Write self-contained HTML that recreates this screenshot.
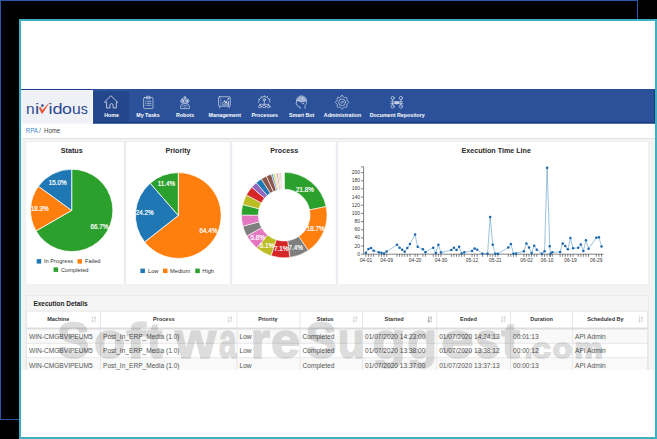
<!DOCTYPE html>
<html><head><meta charset="utf-8">
<style>
*{margin:0;padding:0;box-sizing:border-box}
html,body{width:657px;height:439px;overflow:hidden;background:#000;font-family:"Liberation Sans",sans-serif}
.abs{position:absolute}
#blue{left:0;top:0;width:638px;height:420px;border:1px solid #2c56a6}
#teal{left:19px;top:19px;width:638px;height:420px;border:2px solid #3fb0c4;background:#fff}
#shot{left:21px;top:89px;width:634px;height:281px;overflow:hidden;background:#fff}
.nav{color:#fff;font-weight:bold;font-size:5.3px;white-space:nowrap;text-align:center}
.t{white-space:nowrap;color:#333}
</style></head><body>
<div id="blue" class="abs"></div>
<div id="teal" class="abs"></div>
<div id="shot" class="abs">
<svg width="634" height="281" viewBox="21 89 634 281" style="position:absolute;left:0;top:0" font-family="'Liberation Sans', sans-serif">
 <!-- header -->
 <rect x="21" y="89" width="634" height="34.6" fill="#eff1f7"/>
 <rect x="21" y="89" width="634" height="1" fill="#1f418a"/>
 <rect x="93" y="89" width="562" height="34.5" fill="#2a5199"/>
 <rect x="93" y="121.8" width="562" height="1.7" fill="#1b3c85"/>
 <rect x="653.8" y="89" width="1.2" height="34.5" fill="#1d3d82"/>
 <rect x="92.2" y="90" width="0.9" height="33.6" fill="#fbfcfe"/>
 <rect x="93.1" y="89" width="0.6" height="34.5" fill="#1f418a"/>
 <rect x="93.5" y="91.6" width="35.6" height="30.2" fill="#24468b"/>

 <!-- logo -->
 <g fill="#2b4a8f" font-size="15.5">
  <text transform="translate(25.98,113.6) scale(1.000,1)">n</text>
  <text transform="translate(35.02,113.6) scale(1.246,1)">i</text>
  <text transform="translate(48.60,113.6) scale(1.173,1)">i</text>
  <text transform="translate(52.43,113.6) scale(1.176,1)">d</text>
  <text transform="translate(62.05,113.6) scale(1.148,1)">o</text>
  <text transform="translate(71.99,113.6) scale(1.015,1)">u</text>
  <text transform="translate(80.70,113.6) scale(0.917,1)">s</text>
 </g>
 <path d="M38.8,107.7 L40.9,106.8 L42,110.3 L49.9,101.9 L42.6,113.5 L41.5,113.6 Z" fill="#e9563b"/>
 <circle cx="42.4" cy="105.6" r="1.3" fill="#2b4a8f"/>

 <!-- nav icons -->
 <g fill="none" stroke="#fff" stroke-width="0.6" stroke-linejoin="round" stroke-linecap="round" opacity="0.92">
  <!-- home -->
  <path d="M111.2,96 L117.6,102.1 L116.3,102.1 V108 H113.1 V105.2 A1.6,1.6 0 0 0 109.9,105.2 V108 H106.6 V102.1 H104.9 Z" stroke-width="0.75"/>
  <!-- tasks -->
  <rect x="143.6" y="97.6" width="9.4" height="11" rx="1"/>
  <path d="M146.6,97.6 V96.6 H147.6 A0.7,0.7 0 0 1 149,96.6 H150 V97.6 V98.8 H146.6 Z"/>
  <path d="M147.4,101.3 H151 M147.4,103.3 H151 M147.4,105.3 H151 M145.5,101.3 H146 M145.5,103.3 H146 M145.5,105.3 H146"/>
  <!-- robots -->
  <circle cx="184.8" cy="97.3" r="0.9"/>
  <path d="M184.8,98.2 V99"/>
  <path d="M182.6,99 H187 A2,2 0 0 1 187,103 H182.6 A2,2 0 0 1 182.6,99 Z"/>
  <circle cx="182.9" cy="101" r="1.1" fill="#fff" fill-opacity="0.5"/><circle cx="186.7" cy="101" r="1.1" fill="#fff" fill-opacity="0.5"/>
  <path d="M180.7,108.2 V106.2 C180.7,104.5 182.6,103.6 184.9,103.6 C187.2,103.6 189.3,104.5 189.3,106.2 V108.2 Z"/>
  <path d="M182.5,106.2 C183.5,105.2 186.3,105.2 187.3,106.2 M184.9,107 V107.8" stroke-width="0.5"/>
  <!-- management -->
  <rect x="218.5" y="96.7" width="11.8" height="9.5" rx="1"/>
  <path d="M220,106.2 L219.5,107.9 M228.8,106.2 L229.3,107.9"/>
  <path d="M222.3,103.6 L224.3,101.2 L226,102.3 L228.4,98.6" stroke-width="0.55"/>
  <path d="M220.4,98.6 H221 M220.4,100.4 H221 M220.4,102.2 H221 M220.4,104.1 H221" stroke-width="0.5"/>
  <path d="M223,105.2 V104.2 M225,105.2 V103.4 M227,105.2 V102.8 M228.6,105.2 V101.5" stroke-width="0.8"/>
  <circle cx="224.3" cy="101.2" r="0.45" fill="#fff"/><circle cx="226" cy="102.3" r="0.45" fill="#fff"/><circle cx="228.4" cy="98.6" r="0.45" fill="#fff"/>
  <!-- processes -->
  <path d="M258.6,102.3 A5.7,5.7 0 0 1 270,102.3 M259.4,99.5 L258.4,99 M261.5,97.2 L261,96.3 M264.3,96.6 V95.6 M267.1,97.2 L267.6,96.3 M269.2,99.5 L270.2,99"/>
  <path d="M264.3,100 V104.3 M260,104.3 H268.6 M260,104.3 V105.3 M268.6,104.3 V105.3"/>
  <circle cx="264.3" cy="99.7" r="1.2"/>
  <ellipse cx="260" cy="106.6" rx="1.6" ry="1.2"/><ellipse cx="264.3" cy="106.6" rx="1.6" ry="1.2"/><ellipse cx="268.6" cy="106.6" rx="1.6" ry="1.2"/>
  <!-- smart bot -->
  <path d="M300.2,108.4 L300,106.9 C298.6,107 297.4,106.6 297.2,105.4 L297,104.3 L295.9,103.9 L296.6,102.3 C295.9,98.6 298.2,95.9 301.4,95.9 C304.7,95.9 306.8,98.2 306.6,101.4 C306.5,103.3 305.8,104.6 304.9,105.5 L305.1,108.4"/>
  <path d="M297.3,100.6 C297.6,98.2 299.3,96.8 301.4,96.8 C303.8,96.8 305.7,98.6 305.7,101.2 C304.2,101.8 302.6,101.4 301.6,102.2 C300.4,101.4 298.8,101.6 297.3,100.6 Z" fill="#fff" fill-opacity="0.55" stroke-width="0.5"/>
  <path d="M299,98.6 L300.6,100.4 M302.2,97.6 L302.6,100 M304.2,98.8 L303.2,100.6" stroke-width="0.4"/>
  <circle cx="303.1" cy="103.6" r="0.7" fill="#fff" stroke="none"/>
  <!-- admin -->
  <path d="M342.10,95.65L342.53,95.76L342.92,96.08L343.25,96.51L343.53,96.96L343.79,97.33L344.07,97.54L344.42,97.59L344.86,97.52L345.38,97.39L345.92,97.32L346.42,97.38L346.80,97.60L347.02,97.98L347.08,98.48L347.01,99.02L346.88,99.54L346.81,99.98L346.86,100.33L347.07,100.61L347.44,100.87L347.89,101.15L348.32,101.48L348.64,101.87L348.75,102.30L348.64,102.73L348.32,103.12L347.89,103.45L347.44,103.73L347.07,103.99L346.86,104.27L346.81,104.62L346.88,105.06L347.01,105.58L347.08,106.12L347.02,106.62L346.80,107.00L346.42,107.22L345.92,107.28L345.38,107.21L344.86,107.08L344.42,107.01L344.07,107.06L343.79,107.27L343.53,107.64L343.25,108.09L342.92,108.52L342.53,108.84L342.10,108.95L341.67,108.84L341.28,108.52L340.95,108.09L340.67,107.64L340.41,107.27L340.13,107.06L339.78,107.01L339.34,107.08L338.82,107.21L338.28,107.28L337.78,107.22L337.40,107.00L337.18,106.62L337.12,106.12L337.19,105.58L337.32,105.06L337.39,104.62L337.34,104.27L337.13,103.99L336.76,103.73L336.31,103.45L335.88,103.12L335.56,102.73L335.45,102.30L335.56,101.87L335.88,101.48L336.31,101.15L336.76,100.87L337.13,100.61L337.34,100.33L337.39,99.98L337.32,99.54L337.19,99.02L337.12,98.48L337.18,97.98L337.40,97.60L337.78,97.38L338.28,97.32L338.82,97.39L339.34,97.52L339.78,97.59L340.13,97.54L340.41,97.33L340.67,96.96L340.95,96.51L341.28,96.08L341.67,95.76L342.10,95.65Z"/>
  <circle cx="342.1" cy="102.3" r="3.4"/>
  <path d="M340.6,102.6 C341.2,101.2 343,101 343.8,102 M341.8,103.6 L343.4,101.6" stroke-width="0.5"/>
  <!-- doc repo -->
  <circle cx="392.7" cy="98" r="1.6"/><circle cx="400.9" cy="98" r="1.6"/>
  <circle cx="392.7" cy="106.5" r="1.6"/><circle cx="400.9" cy="106.5" r="1.6"/>
  <path d="M392.7,99.6 V104.9 M400.9,99.6 V104.9 M390.8,101.8 H402.8 M390.8,103.7 H402.8"/>
  <ellipse cx="396.8" cy="102.7" rx="2.2" ry="1.1" fill="#fff" fill-opacity="0.6"/>
 </g>
 <g font-weight="bold" font-size="5.3" fill="#fff" text-anchor="middle">
  <text x="111.6" y="116.5">Home</text>
  <text x="148" y="116.5">My Tasks</text>
  <text x="185" y="116.5">Robots</text>
  <text x="224.8" y="116.5">Management</text>
  <text x="264.7" y="116.5">Processes</text>
  <text x="301.6" y="116.5">Smart Bot</text>
  <text x="342.5" y="116.5">Administration</text>
  <text x="397.2" y="116.5">Document Repository</text>
 </g>
 <!-- breadcrumb -->
 <text transform="translate(25.8,132.9) scale(0.92,1)" font-size="6.6" fill="#3d8bcb">RPA</text>
 <text x="39" y="132.9" font-size="6.6" fill="#666">/</text>
 <text transform="translate(44,132.9) scale(0.92,1)" font-size="6.6" fill="#444">Home</text>
 <!-- content bg -->
 <rect x="21" y="138" width="634" height="232" fill="#f3f3f3"/>
 <rect x="21" y="138" width="634" height="0.8" fill="#dcdcdc"/>
 <!-- cards -->
 <g fill="#fff" stroke="#e8ebf0" stroke-width="0.7">
  <rect x="25.8" y="141.8" width="98.4" height="143"/>
  <rect x="125.8" y="141.8" width="104.4" height="143"/>
  <rect x="231.8" y="141.8" width="104.4" height="143"/>
  <rect x="337.8" y="141.8" width="310.8" height="143"/>
 </g>
 <g fill="#e9ecf1">
  <rect x="124.2" y="142" width="1.6" height="142.6"/>
  <rect x="230.2" y="142" width="1.6" height="142.6"/>
  <rect x="336.2" y="142" width="1.6" height="142.6"/>
 </g>
 <g font-weight="bold" font-size="7.8" fill="#2a2a2a" text-anchor="middle">
  <text transform="translate(71.7,152.9) scale(0.92,1)">Status</text>
  <text transform="translate(178,152.9) scale(0.92,1)">Priority</text>
  <text transform="translate(284.2,152.9) scale(0.92,1)">Process</text>
  <text transform="translate(496.2,153.2) scale(0.92,1)">Execution Time Line</text>
 </g>
 <path d="M71.70,210.40L71.70,169.20A41.2,41.2 0 1 1 35.98,230.93Z" fill="#2ca02c" stroke="#fff" stroke-width="0.8"/>
<path d="M71.70,210.40L35.98,230.93A41.2,41.2 0 0 1 38.37,186.18Z" fill="#ff7f0e" stroke="#fff" stroke-width="0.8"/>
<path d="M71.70,210.40L38.37,186.18A41.2,41.2 0 0 1 71.70,169.20Z" fill="#1f77b4" stroke="#fff" stroke-width="0.8"/>
<path d="M178.30,215.50L178.30,172.60A42.9,42.9 0 1 1 144.57,242.01Z" fill="#ff7f0e" stroke="#fff" stroke-width="0.8"/>
<path d="M178.30,215.50L144.57,242.01A42.9,42.9 0 0 1 150.13,183.14Z" fill="#1f77b4" stroke="#fff" stroke-width="0.8"/>
<path d="M178.30,215.50L150.13,183.14A42.9,42.9 0 0 1 178.30,172.60Z" fill="#2ca02c" stroke="#fff" stroke-width="0.8"/>
<path d="M284.20,172.30A42.8,42.8 0 0 1 326.14,206.55L309.58,209.93A25.9,25.9 0 0 0 284.20,189.20Z" fill="#2ca02c" stroke="#fff" stroke-width="0.6"/>
<path d="M326.14,206.55A42.8,42.8 0 0 1 308.26,250.50L298.76,236.52A25.9,25.9 0 0 0 309.58,209.93Z" fill="#ff7f0e" stroke="#fff" stroke-width="0.6"/>
<path d="M308.26,250.50A42.8,42.8 0 0 1 289.83,257.53L287.61,240.77A25.9,25.9 0 0 0 298.76,236.52Z" fill="#7f7f7f" stroke="#fff" stroke-width="0.6"/>
<path d="M289.83,257.53A42.8,42.8 0 0 1 270.97,255.81L276.20,239.73A25.9,25.9 0 0 0 287.61,240.77Z" fill="#d62728" stroke="#fff" stroke-width="0.6"/>
<path d="M270.97,255.81A42.8,42.8 0 0 1 256.71,247.91L267.57,234.95A25.9,25.9 0 0 0 276.20,239.73Z" fill="#bcbd22" stroke="#fff" stroke-width="0.6"/>
<path d="M256.71,247.91A42.8,42.8 0 0 1 246.82,235.95L261.58,227.72A25.9,25.9 0 0 0 267.57,234.95Z" fill="#e377c2" stroke="#fff" stroke-width="0.6"/>
<path d="M246.82,235.95A42.8,42.8 0 0 1 242.86,226.18L259.18,221.80A25.9,25.9 0 0 0 261.58,227.72Z" fill="#7f7f7f" stroke="#fff" stroke-width="0.6"/>
<path d="M242.86,226.18A42.8,42.8 0 0 1 241.40,215.10L258.30,215.10A25.9,25.9 0 0 0 259.18,221.80Z" fill="#e377c2" stroke="#fff" stroke-width="0.6"/>
<path d="M241.40,215.10A42.8,42.8 0 0 1 242.71,204.60L259.09,208.75A25.9,25.9 0 0 0 258.30,215.10Z" fill="#2ca02c" stroke="#fff" stroke-width="0.6"/>
<path d="M242.71,204.60A42.8,42.8 0 0 1 246.44,194.94L261.35,202.90A25.9,25.9 0 0 0 259.09,208.75Z" fill="#bcbd22" stroke="#fff" stroke-width="0.6"/>
<path d="M246.44,194.94A42.8,42.8 0 0 1 251.75,187.19L264.56,198.21A25.9,25.9 0 0 0 261.35,202.90Z" fill="#d62728" stroke="#fff" stroke-width="0.6"/>
<path d="M251.75,187.19A42.8,42.8 0 0 1 256.23,182.70L267.28,195.49A25.9,25.9 0 0 0 264.56,198.21Z" fill="#9467bd" stroke="#fff" stroke-width="0.6"/>
<path d="M256.23,182.70A42.8,42.8 0 0 1 261.33,178.92L270.36,193.21A25.9,25.9 0 0 0 267.28,195.49Z" fill="#1f77b4" stroke="#fff" stroke-width="0.6"/>
<path d="M261.33,178.92A42.8,42.8 0 0 1 266.38,176.18L273.42,191.55A25.9,25.9 0 0 0 270.36,193.21Z" fill="#8c564b" stroke="#fff" stroke-width="0.6"/>
<path d="M266.38,176.18A42.8,42.8 0 0 1 271.33,174.28L276.41,190.40A25.9,25.9 0 0 0 273.42,191.55Z" fill="#8c564b" stroke="#fff" stroke-width="0.6"/>
<path d="M271.33,174.28A42.8,42.8 0 0 1 273.12,173.76L277.50,190.08A25.9,25.9 0 0 0 276.41,190.40Z" fill="#3b8bd0" stroke="#fff" stroke-width="0.6"/>
<path d="M273.12,173.76A42.8,42.8 0 0 1 275.01,173.30L278.64,189.80A25.9,25.9 0 0 0 277.50,190.08Z" fill="#dcd34a" stroke="#fff" stroke-width="0.6"/>
<path d="M275.01,173.30A42.8,42.8 0 0 1 276.33,173.03L279.44,189.64A25.9,25.9 0 0 0 278.64,189.80Z" fill="#f7b6d2" stroke="#fff" stroke-width="0.6"/>
<path d="M276.33,173.03A42.8,42.8 0 0 1 278.10,172.74L280.51,189.46A25.9,25.9 0 0 0 279.44,189.64Z" fill="#c49c94" stroke="#fff" stroke-width="0.6"/>
<path d="M278.10,172.74A42.8,42.8 0 0 1 279.43,172.57L281.31,189.36A25.9,25.9 0 0 0 280.51,189.46Z" fill="#f4b28c" stroke="#fff" stroke-width="0.6"/>
<path d="M279.43,172.57A42.8,42.8 0 0 1 281.07,172.41L282.30,189.27A25.9,25.9 0 0 0 281.31,189.36Z" fill="#c7c7c7" stroke="#fff" stroke-width="0.6"/>
<path d="M281.07,172.41A42.8,42.8 0 0 1 282.26,172.34L283.03,189.23A25.9,25.9 0 0 0 282.30,189.27Z" fill="#f2c2cc" stroke="#fff" stroke-width="0.6"/>
<path d="M282.26,172.34A42.8,42.8 0 0 1 284.20,172.30L284.20,189.20A25.9,25.9 0 0 0 283.03,189.23Z" fill="#fbfbfb" stroke="#fff" stroke-width="0.6"/>
<text x="57.6" y="182.4" text-anchor="middle" dominant-baseline="central" fill="#fff" stroke="#fff" stroke-width="0.2" font-size="6.3">15.0%</text>
<text x="39.8" y="208.3" text-anchor="middle" dominant-baseline="central" fill="#fff" stroke="#fff" stroke-width="0.2" font-size="6.3">18.3%</text>
<text x="99.5" y="226.6" text-anchor="middle" dominant-baseline="central" fill="#fff" stroke="#fff" stroke-width="0.2" font-size="6.3">66.7%</text>
<text x="166.5" y="183.7" text-anchor="middle" dominant-baseline="central" fill="#fff" stroke="#fff" stroke-width="0.2" font-size="6.3">11.4%</text>
<text x="144.7" y="212.4" text-anchor="middle" dominant-baseline="central" fill="#fff" stroke="#fff" stroke-width="0.2" font-size="6.3">24.2%</text>
<text x="208.5" y="230" text-anchor="middle" dominant-baseline="central" fill="#fff" stroke="#fff" stroke-width="0.2" font-size="6.3">64.4%</text>
<text x="304.9" y="189.2" text-anchor="middle" dominant-baseline="central" fill="#fff" stroke="#fff" stroke-width="0.2" font-size="6.3">21.8%</text>
<text x="315.7" y="228.1" text-anchor="middle" dominant-baseline="central" fill="#fff" stroke="#fff" stroke-width="0.2" font-size="6.3">18.7%</text>
<text x="295.6" y="247.6" text-anchor="middle" dominant-baseline="central" fill="#fff" stroke="#fff" stroke-width="0.2" font-size="6.3">7.4%</text>
<text x="281.2" y="248.8" text-anchor="middle" dominant-baseline="central" fill="#fff" stroke="#fff" stroke-width="0.2" font-size="6.3">7.1%</text>
<text x="266.9" y="245.1" text-anchor="middle" dominant-baseline="central" fill="#fff" stroke="#fff" stroke-width="0.2" font-size="6.3">6.1%</text>
<text x="257.6" y="237.3" text-anchor="middle" dominant-baseline="central" fill="#fff" stroke="#fff" stroke-width="0.2" font-size="6.3">5.8%</text>
 <!-- legends -->
 <g font-size="5.7" fill="#333">
  <rect x="36.7" y="259.1" width="4.5" height="4.5" fill="#1f77b4"/><text x="44" y="263.4">In Progress</text>
  <rect x="77.5" y="259.1" width="4.5" height="4.5" fill="#ff7f0e"/><text x="85" y="263.4">Failed</text>
  <rect x="53.6" y="267.4" width="4.5" height="4.5" fill="#2ca02c"/><text x="61" y="271.9">Completed</text>
  <rect x="140.4" y="268.6" width="4.5" height="4.5" fill="#1f77b4"/><text x="148" y="272.9">Low</text>
  <rect x="163" y="268.6" width="4.5" height="4.5" fill="#ff7f0e"/><text x="170" y="272.9">Medium</text>
  <rect x="195.3" y="268.6" width="4.5" height="4.5" fill="#2ca02c"/><text x="202.3" y="272.9">High</text>
 </g>
 
<g fill="none" stroke="#333" stroke-width="0.6">
<path d="M361.0,166.8H363.6V254.2H603.6"/>
<line x1="365.90" y1="254.2" x2="365.90" y2="256.8"/><line x1="368.49" y1="254.2" x2="368.49" y2="256.8"/><line x1="371.08" y1="254.2" x2="371.08" y2="256.8"/><line x1="373.67" y1="254.2" x2="373.67" y2="256.8"/><line x1="378.84" y1="254.2" x2="378.84" y2="256.8"/><line x1="381.43" y1="254.2" x2="381.43" y2="256.8"/><line x1="384.02" y1="254.2" x2="384.02" y2="256.8"/><line x1="386.61" y1="254.2" x2="386.61" y2="256.8"/><line x1="396.97" y1="254.2" x2="396.97" y2="256.8"/><line x1="399.56" y1="254.2" x2="399.56" y2="256.8"/><line x1="402.15" y1="254.2" x2="402.15" y2="256.8"/><line x1="404.73" y1="254.2" x2="404.73" y2="256.8"/><line x1="407.32" y1="254.2" x2="407.32" y2="256.8"/><line x1="409.91" y1="254.2" x2="409.91" y2="256.8"/><line x1="415.09" y1="254.2" x2="415.09" y2="256.8"/><line x1="417.68" y1="254.2" x2="417.68" y2="256.8"/><line x1="422.86" y1="254.2" x2="422.86" y2="256.8"/><line x1="425.45" y1="254.2" x2="425.45" y2="256.8"/><line x1="433.21" y1="254.2" x2="433.21" y2="256.8"/><line x1="435.80" y1="254.2" x2="435.80" y2="256.8"/><line x1="438.39" y1="254.2" x2="438.39" y2="256.8"/><line x1="440.98" y1="254.2" x2="440.98" y2="256.8"/><line x1="451.34" y1="254.2" x2="451.34" y2="256.8"/><line x1="453.93" y1="254.2" x2="453.93" y2="256.8"/><line x1="456.51" y1="254.2" x2="456.51" y2="256.8"/><line x1="459.10" y1="254.2" x2="459.10" y2="256.8"/><line x1="461.69" y1="254.2" x2="461.69" y2="256.8"/><line x1="464.28" y1="254.2" x2="464.28" y2="256.8"/><line x1="472.05" y1="254.2" x2="472.05" y2="256.8"/><line x1="474.64" y1="254.2" x2="474.64" y2="256.8"/><line x1="477.23" y1="254.2" x2="477.23" y2="256.8"/><line x1="482.40" y1="254.2" x2="482.40" y2="256.8"/><line x1="487.58" y1="254.2" x2="487.58" y2="256.8"/><line x1="490.17" y1="254.2" x2="490.17" y2="256.8"/><line x1="492.76" y1="254.2" x2="492.76" y2="256.8"/><line x1="495.35" y1="254.2" x2="495.35" y2="256.8"/><line x1="497.94" y1="254.2" x2="497.94" y2="256.8"/><line x1="508.29" y1="254.2" x2="508.29" y2="256.8"/><line x1="510.88" y1="254.2" x2="510.88" y2="256.8"/><line x1="513.47" y1="254.2" x2="513.47" y2="256.8"/><line x1="516.06" y1="254.2" x2="516.06" y2="256.8"/><line x1="523.83" y1="254.2" x2="523.83" y2="256.8"/><line x1="526.42" y1="254.2" x2="526.42" y2="256.8"/><line x1="529.01" y1="254.2" x2="529.01" y2="256.8"/><line x1="531.60" y1="254.2" x2="531.60" y2="256.8"/><line x1="534.18" y1="254.2" x2="534.18" y2="256.8"/><line x1="536.77" y1="254.2" x2="536.77" y2="256.8"/><line x1="541.95" y1="254.2" x2="541.95" y2="256.8"/><line x1="544.54" y1="254.2" x2="544.54" y2="256.8"/><line x1="547.13" y1="254.2" x2="547.13" y2="256.8"/><line x1="549.72" y1="254.2" x2="549.72" y2="256.8"/><line x1="550.50" y1="254.2" x2="550.50" y2="256.8"/><line x1="552.31" y1="254.2" x2="552.31" y2="256.8"/><line x1="560.08" y1="254.2" x2="560.08" y2="256.8"/><line x1="562.66" y1="254.2" x2="562.66" y2="256.8"/><line x1="565.25" y1="254.2" x2="565.25" y2="256.8"/><line x1="567.84" y1="254.2" x2="567.84" y2="256.8"/><line x1="570.43" y1="254.2" x2="570.43" y2="256.8"/><line x1="573.02" y1="254.2" x2="573.02" y2="256.8"/><line x1="578.20" y1="254.2" x2="578.20" y2="256.8"/><line x1="580.79" y1="254.2" x2="580.79" y2="256.8"/><line x1="583.38" y1="254.2" x2="583.38" y2="256.8"/><line x1="585.96" y1="254.2" x2="585.96" y2="256.8"/><line x1="588.55" y1="254.2" x2="588.55" y2="256.8"/><line x1="596.32" y1="254.2" x2="596.32" y2="256.8"/><line x1="598.91" y1="254.2" x2="598.91" y2="256.8"/><line x1="601.50" y1="254.2" x2="601.50" y2="256.8"/><line x1="361.0" y1="254.20" x2="363.6" y2="254.20"/><text fill="#333" stroke="none" font-size="4.9" x="360.0" y="254.20" text-anchor="end" dominant-baseline="central">0</text><line x1="361.0" y1="246.04" x2="363.6" y2="246.04"/><text fill="#333" stroke="none" font-size="4.9" x="360.0" y="246.04" text-anchor="end" dominant-baseline="central">20</text><line x1="361.0" y1="237.88" x2="363.6" y2="237.88"/><text fill="#333" stroke="none" font-size="4.9" x="360.0" y="237.88" text-anchor="end" dominant-baseline="central">40</text><line x1="361.0" y1="229.72" x2="363.6" y2="229.72"/><text fill="#333" stroke="none" font-size="4.9" x="360.0" y="229.72" text-anchor="end" dominant-baseline="central">60</text><line x1="361.0" y1="221.56" x2="363.6" y2="221.56"/><text fill="#333" stroke="none" font-size="4.9" x="360.0" y="221.56" text-anchor="end" dominant-baseline="central">80</text><line x1="361.0" y1="213.40" x2="363.6" y2="213.40"/><text fill="#333" stroke="none" font-size="4.9" x="360.0" y="213.40" text-anchor="end" dominant-baseline="central">100</text><line x1="361.0" y1="205.24" x2="363.6" y2="205.24"/><text fill="#333" stroke="none" font-size="4.9" x="360.0" y="205.24" text-anchor="end" dominant-baseline="central">120</text><line x1="361.0" y1="197.08" x2="363.6" y2="197.08"/><text fill="#333" stroke="none" font-size="4.9" x="360.0" y="197.08" text-anchor="end" dominant-baseline="central">140</text><line x1="361.0" y1="188.92" x2="363.6" y2="188.92"/><text fill="#333" stroke="none" font-size="4.9" x="360.0" y="188.92" text-anchor="end" dominant-baseline="central">160</text><line x1="361.0" y1="180.76" x2="363.6" y2="180.76"/><text fill="#333" stroke="none" font-size="4.9" x="360.0" y="180.76" text-anchor="end" dominant-baseline="central">180</text><line x1="361.0" y1="172.60" x2="363.6" y2="172.60"/><text fill="#333" stroke="none" font-size="4.9" x="360.0" y="172.60" text-anchor="end" dominant-baseline="central">200</text>
</g>
<g font-size="4.9" fill="#333"><text x="365.90" y="260.90" text-anchor="middle" dominant-baseline="central">04-01</text><text x="386.61" y="260.90" text-anchor="middle" dominant-baseline="central">04-09</text><text x="415.09" y="260.90" text-anchor="middle" dominant-baseline="central">04-20</text><text x="440.98" y="260.90" text-anchor="middle" dominant-baseline="central">04-30</text><text x="472.05" y="260.90" text-anchor="middle" dominant-baseline="central">05-12</text><text x="495.35" y="260.90" text-anchor="middle" dominant-baseline="central">05-21</text><text x="526.42" y="260.90" text-anchor="middle" dominant-baseline="central">06-02</text><text x="547.13" y="260.90" text-anchor="middle" dominant-baseline="central">06-10</text><text x="570.43" y="260.90" text-anchor="middle" dominant-baseline="central">06-19</text><text x="596.32" y="260.90" text-anchor="middle" dominant-baseline="central">06-29</text></g>
<path d="M365.90,252.77L368.49,249.10L371.08,247.88L373.67,250.73L378.84,252.36L381.43,252.77L384.02,253.59L386.61,251.55L396.97,244.82L399.56,247.67L402.15,249.71L404.73,251.75L407.32,248.08L409.91,244.00L415.09,234.62L417.68,246.86L422.86,249.30L425.45,252.16L433.21,247.67L435.80,252.98L438.39,244.82L440.98,252.57L451.34,250.12L453.93,247.67L456.51,250.12L459.10,246.86L461.69,253.38L464.28,252.16L472.05,250.94L474.64,248.49L477.23,249.71L482.40,253.79L487.58,253.79L490.17,217.07L492.76,244.82L495.35,253.79L497.94,253.79L508.29,247.47L510.88,244.00L513.47,253.79L516.06,253.38L523.83,251.34L526.42,243.59L529.01,247.47L531.60,252.98L534.18,245.63L536.77,249.71L541.95,253.79L544.54,251.34L547.13,167.70L549.72,246.24L550.50,253.79L552.31,252.16L560.08,251.92L562.66,243.59L565.25,246.04L567.84,249.30L570.43,238.08L573.02,248.32L578.20,247.84L580.79,244.41L583.38,250.94L585.96,240.33L588.55,248.73L596.32,237.72L598.91,237.19L601.50,246.53" fill="none" stroke="#1f77b4" stroke-opacity="0.55" stroke-width="0.8"/>
<g fill="#1a66ad"><circle cx="365.90" cy="252.77" r="1.25"/><circle cx="368.49" cy="249.10" r="1.25"/><circle cx="371.08" cy="247.88" r="1.25"/><circle cx="373.67" cy="250.73" r="1.25"/><circle cx="378.84" cy="252.36" r="1.25"/><circle cx="381.43" cy="252.77" r="1.25"/><circle cx="384.02" cy="253.59" r="1.25"/><circle cx="386.61" cy="251.55" r="1.25"/><circle cx="396.97" cy="244.82" r="1.25"/><circle cx="399.56" cy="247.67" r="1.25"/><circle cx="402.15" cy="249.71" r="1.25"/><circle cx="404.73" cy="251.75" r="1.25"/><circle cx="407.32" cy="248.08" r="1.25"/><circle cx="409.91" cy="244.00" r="1.25"/><circle cx="415.09" cy="234.62" r="1.25"/><circle cx="417.68" cy="246.86" r="1.25"/><circle cx="422.86" cy="249.30" r="1.25"/><circle cx="425.45" cy="252.16" r="1.25"/><circle cx="433.21" cy="247.67" r="1.25"/><circle cx="435.80" cy="252.98" r="1.25"/><circle cx="438.39" cy="244.82" r="1.25"/><circle cx="440.98" cy="252.57" r="1.25"/><circle cx="451.34" cy="250.12" r="1.25"/><circle cx="453.93" cy="247.67" r="1.25"/><circle cx="456.51" cy="250.12" r="1.25"/><circle cx="459.10" cy="246.86" r="1.25"/><circle cx="461.69" cy="253.38" r="1.25"/><circle cx="464.28" cy="252.16" r="1.25"/><circle cx="472.05" cy="250.94" r="1.25"/><circle cx="474.64" cy="248.49" r="1.25"/><circle cx="477.23" cy="249.71" r="1.25"/><circle cx="482.40" cy="253.79" r="1.25"/><circle cx="487.58" cy="253.79" r="1.25"/><circle cx="490.17" cy="217.07" r="1.25"/><circle cx="492.76" cy="244.82" r="1.25"/><circle cx="495.35" cy="253.79" r="1.25"/><circle cx="497.94" cy="253.79" r="1.25"/><circle cx="508.29" cy="247.47" r="1.25"/><circle cx="510.88" cy="244.00" r="1.25"/><circle cx="513.47" cy="253.79" r="1.25"/><circle cx="516.06" cy="253.38" r="1.25"/><circle cx="523.83" cy="251.34" r="1.25"/><circle cx="526.42" cy="243.59" r="1.25"/><circle cx="529.01" cy="247.47" r="1.25"/><circle cx="531.60" cy="252.98" r="1.25"/><circle cx="534.18" cy="245.63" r="1.25"/><circle cx="536.77" cy="249.71" r="1.25"/><circle cx="541.95" cy="253.79" r="1.25"/><circle cx="544.54" cy="251.34" r="1.25"/><circle cx="547.13" cy="167.70" r="1.25"/><circle cx="549.72" cy="246.24" r="1.25"/><circle cx="550.50" cy="253.79" r="1.25"/><circle cx="552.31" cy="252.16" r="1.25"/><circle cx="560.08" cy="251.92" r="1.25"/><circle cx="562.66" cy="243.59" r="1.25"/><circle cx="565.25" cy="246.04" r="1.25"/><circle cx="567.84" cy="249.30" r="1.25"/><circle cx="570.43" cy="238.08" r="1.25"/><circle cx="573.02" cy="248.32" r="1.25"/><circle cx="578.20" cy="247.84" r="1.25"/><circle cx="580.79" cy="244.41" r="1.25"/><circle cx="583.38" cy="250.94" r="1.25"/><circle cx="585.96" cy="240.33" r="1.25"/><circle cx="588.55" cy="248.73" r="1.25"/><circle cx="596.32" cy="237.72" r="1.25"/><circle cx="598.91" cy="237.19" r="1.25"/><circle cx="601.50" cy="246.53" r="1.25"/></g>

 <rect x="26" y="295.5" width="622.5" height="80" fill="#f5f5f5" stroke="#e6e8ee" stroke-width="0.8"/>
<text x="33.4" y="306" font-weight="bold" font-size="6.5" fill="#222">Execution Details</text>
<rect x="26.5" y="311" width="621" height="16.7" fill="#fff"/>
<rect x="26.5" y="329.4" width="621" height="13.9" fill="#f9f9f9"/>
<rect x="26.5" y="343.3" width="621" height="14.4" fill="#fff"/>
<rect x="26.5" y="357.7" width="621" height="14.4" fill="#f9f9f9"/>
<g stroke="#e2e2e2" stroke-width="0.8" fill="none">
<path d="M26.5,311.2 H647.5"/>
<path d="M26.5,311 V372"/>
<path d="M100.5,311 V372"/>
<path d="M237,311 V372"/>
<path d="M300,311 V372"/>
<path d="M362.5,311 V372"/>
<path d="M436.7,311 V372"/>
<path d="M510.5,311 V372"/>
<path d="M572.5,311 V372"/>
<path d="M647.5,311 V372"/>
<path d="M26.5,343.3 H647.5"/>
<path d="M26.5,357.7 H647.5"/>
</g>
<rect x="26.5" y="327.6" width="621" height="1.8" fill="#dcdcdc"/>
<g font-weight="bold" font-size="5.5" fill="#333" text-anchor="middle">
<text x="58.2" y="321.3">Machine</text>
<text x="163.8" y="321.3">Process</text>
<text x="267.9" y="321.3">Priority</text>
<text x="325.2" y="321.3">Status</text>
<text x="394.1" y="321.3">Started</text>
<text x="468.4" y="321.3">Ended</text>
<text x="541.6" y="321.3">Duration</text>
<text x="605.4" y="321.3">Scheduled By</text>
</g>
<g stroke-width="0.55" fill="none" stroke-linecap="round"><path d="M92.6,316.9 V322 M91.7,321 L92.6,322 L93.5,321" stroke="#bbb"/><path d="M95.0,322 V316.9 M94.1,317.9 L95.0,316.9 L95.89999999999999,317.9" stroke="#bbb"/></g>
<g stroke-width="0.55" fill="none" stroke-linecap="round"><path d="M228.8,316.9 V322 M227.9,321 L228.8,322 L229.7,321" stroke="#bbb"/><path d="M231.2,322 V316.9 M230.3,317.9 L231.2,316.9 L232.1,317.9" stroke="#bbb"/></g>
<g stroke-width="0.55" fill="none" stroke-linecap="round"><path d="M353.8,316.9 V322 M352.9,321 L353.8,322 L354.7,321" stroke="#bbb"/><path d="M356.2,322 V316.9 M355.3,317.9 L356.2,316.9 L357.1,317.9" stroke="#bbb"/></g>
<g stroke-width="0.55" fill="none" stroke-linecap="round"><path d="M428.8,316.9 V322 M427.9,321 L428.8,322 L429.7,321" stroke="#555"/><path d="M431.2,322 V316.9 M430.3,317.9 L431.2,316.9 L432.1,317.9" stroke="#999"/></g>
<g stroke-width="0.55" fill="none" stroke-linecap="round"><path d="M502.0,316.9 V322 M501.09999999999997,321 L502.0,322 L502.9,321" stroke="#bbb"/><path d="M504.4,322 V316.9 M503.5,317.9 L504.4,316.9 L505.3,317.9" stroke="#bbb"/></g>
<g stroke-width="0.55" fill="none" stroke-linecap="round"><path d="M639.5,316.9 V322 M638.6,321 L639.5,322 L640.4000000000001,321" stroke="#bbb"/><path d="M641.9000000000001,322 V316.9 M641.0,317.9 L641.9000000000001,316.9 L642.8000000000001,317.9" stroke="#bbb"/></g>
<g font-size="7.5" fill="#545454">
<text transform="translate(29.0,339.00) scale(0.88,1)">WIN-CMGBVIPEUM5</text>
<text transform="translate(103.0,339.00) scale(0.88,1)">Post_In_ERP_Media (1.0)</text>
<text transform="translate(239.5,339.00) scale(0.88,1)">Low</text>
<text transform="translate(302.5,339.00) scale(0.88,1)">Completed</text>
<text transform="translate(365.0,339.00) scale(0.88,1)">01/07/2020 14:23:00</text>
<text transform="translate(439.2,339.00) scale(0.88,1)">01/07/2020 14:24:13</text>
<text transform="translate(513.0,339.00) scale(0.88,1)">00:01:13</text>
<text transform="translate(575.0,339.00) scale(0.88,1)">API Admin</text>
<text transform="translate(29.0,353.15) scale(0.88,1)">WIN-CMGBVIPEUM5</text>
<text transform="translate(103.0,353.15) scale(0.88,1)">Post_In_ERP_Media (1.0)</text>
<text transform="translate(239.5,353.15) scale(0.88,1)">Low</text>
<text transform="translate(302.5,353.15) scale(0.88,1)">Completed</text>
<text transform="translate(365.0,353.15) scale(0.88,1)">01/07/2020 13:38:00</text>
<text transform="translate(439.2,353.15) scale(0.88,1)">01/07/2020 13:38:12</text>
<text transform="translate(513.0,353.15) scale(0.88,1)">00:00:12</text>
<text transform="translate(575.0,353.15) scale(0.88,1)">API Admin</text>
<text transform="translate(29.0,367.55) scale(0.88,1)">WIN-CMGBVIPEUM5</text>
<text transform="translate(103.0,367.55) scale(0.88,1)">Post_In_ERP_Media (1.0)</text>
<text transform="translate(239.5,367.55) scale(0.88,1)">Low</text>
<text transform="translate(302.5,367.55) scale(0.88,1)">Completed</text>
<text transform="translate(365.0,367.55) scale(0.88,1)">01/07/2020 13:37:00</text>
<text transform="translate(439.2,367.55) scale(0.88,1)">01/07/2020 13:37:13</text>
<text transform="translate(513.0,367.55) scale(0.88,1)">00:00:13</text>
<text transform="translate(575.0,367.55) scale(0.88,1)">API Admin</text>
</g>
<g fill="#000" stroke="#000" stroke-width="1.6" stroke-linejoin="round" opacity="0.13" font-weight="bold"><text transform="translate(57.35,357.9) scale(0.968,1)" font-size="49.9">S</text><text transform="translate(93.95,357.9) scale(1.024,1)" font-size="49.9">o</text><text transform="translate(126.35,357.9) scale(1.173,1)" font-size="49.9">f</text><text transform="translate(147.04,357.9) scale(0.937,1)" font-size="49.9">t</text><text transform="translate(174.91,357.9) scale(1.061,1)" font-size="49.9">w</text><text transform="translate(219.06,357.9) scale(0.629,1)" font-size="49.9">a</text><text transform="translate(250.74,357.9) scale(0.989,1)" font-size="49.9">r</text><text transform="translate(271.11,357.9) scale(1.047,1)" font-size="49.9">e</text><text transform="translate(305.73,357.9) scale(0.918,1)" font-size="49.9">S</text><text transform="translate(337.69,357.9) scale(0.877,1)" font-size="49.9">u</text><text transform="translate(372.51,357.9) scale(1.093,1)" font-size="49.9">g</text><text transform="translate(407.14,357.9) scale(0.982,1)" font-size="49.9">g</text><text transform="translate(441.27,357.9) scale(1.168,1)" font-size="49.9">e</text><text transform="translate(475.23,357.9) scale(0.872,1)" font-size="49.9">s</text><text transform="translate(501.23,357.9) scale(1.125,1)" font-size="49.9">t</text><text transform="translate(524.41,357.9) scale(1.038,1)" font-size="28.2">.</text><text transform="translate(531.18,357.9) scale(1.261,1)" font-size="28.2">c</text><text transform="translate(552.60,357.9) scale(1.152,1)" font-size="28.2">o</text><text transform="translate(574.37,357.9) scale(1.144,1)" font-size="28.2">m</text></g>
</svg>
</div>
</body></html>
